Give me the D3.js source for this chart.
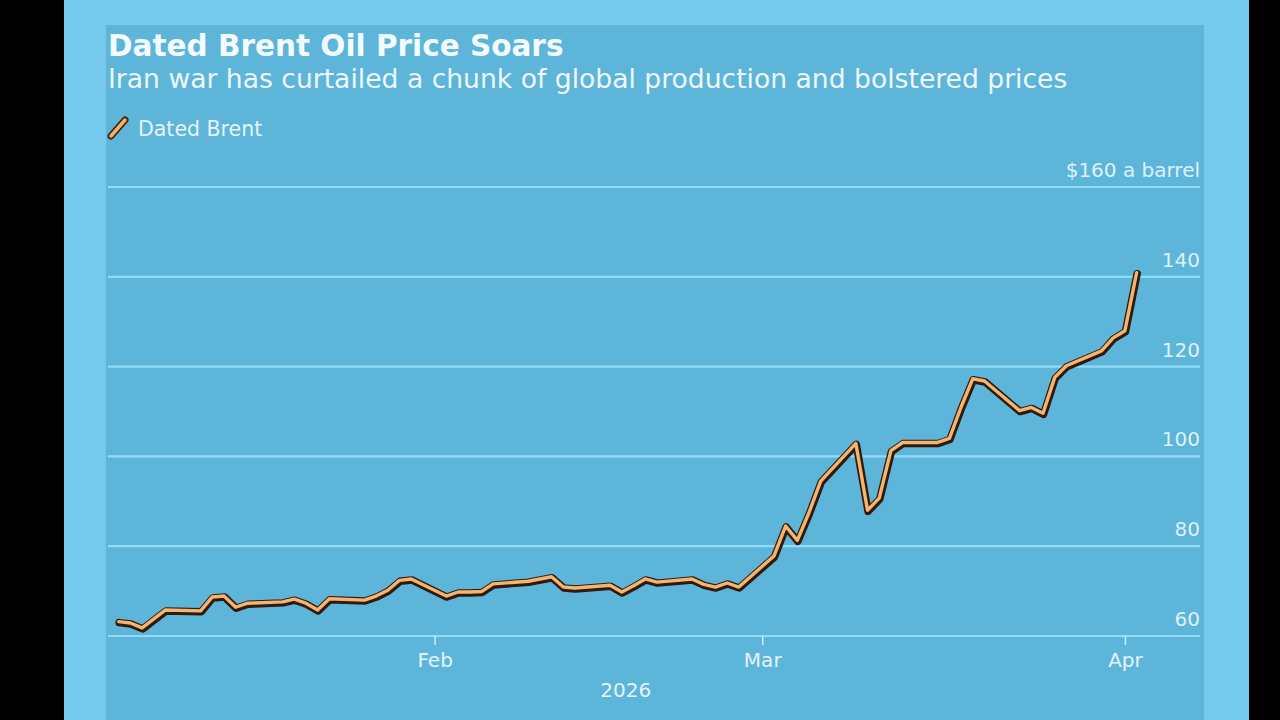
<!DOCTYPE html>
<html>
<head>
<meta charset="utf-8">
<script src="https://cdn.jsdelivr.net/npm/d3@7/dist/d3.min.js"></script>
<style>
  html, body { margin: 0; padding: 0; background: #000; }
  svg { display: block; }
</style>
</head>
<body>
<svg id="chart" width="1280" height="720"></svg>
<script>
// ---- Data ----
const title = "Dated Brent Oil Price Soars";
const subtitle = "Iran war has curtailed a chunk of global production and bolstered prices";
const seriesName = "Dated Brent";

const dates = [
  "2026-01-05","2026-01-06","2026-01-07","2026-01-08","2026-01-09",
  "2026-01-12","2026-01-13","2026-01-14","2026-01-15","2026-01-16",
  "2026-01-19","2026-01-20","2026-01-21","2026-01-22","2026-01-23",
  "2026-01-26","2026-01-27","2026-01-28","2026-01-29","2026-01-30",
  "2026-02-02","2026-02-03","2026-02-04","2026-02-05","2026-02-06",
  "2026-02-09","2026-02-10","2026-02-11","2026-02-12","2026-02-13",
  "2026-02-16","2026-02-17","2026-02-18","2026-02-19","2026-02-20",
  "2026-02-23","2026-02-24","2026-02-25","2026-02-26","2026-02-27",
  "2026-03-02","2026-03-03","2026-03-04","2026-03-05","2026-03-06",
  "2026-03-09","2026-03-10","2026-03-11","2026-03-12","2026-03-13",
  "2026-03-16","2026-03-17","2026-03-18","2026-03-19","2026-03-20",
  "2026-03-23","2026-03-24","2026-03-25","2026-03-26","2026-03-27",
  "2026-03-30","2026-03-31","2026-04-01","2026-04-02"
];
const prices = [
  63.2, 62.9, 61.8, 63.8, 65.8,
  65.6, 68.7, 68.9, 66.4, 67.3,
  67.6, 68.2, 67.3, 65.8, 68.3,
  68.0, 68.9, 70.2, 72.4, 72.7,
  68.9, 69.8, 69.8, 69.9, 71.6,
  72.2, 72.7, 73.2, 70.9, 70.7,
  71.3, 69.8, 71.2, 72.7, 72.0,
  72.7, 71.5, 70.9, 71.8, 70.9,
  77.8, 84.5, 81.3, 87.5, 94.5,
  102.9, 88.0, 90.7, 101.3, 103.1,
  103.1, 104.0, 111.0, 117.3, 116.8,
  110.2, 110.9, 109.6, 117.6, 120.2,
  123.5, 126.4, 128.0, 140.9
];
const yTicks = [60, 80, 100, 120, 140, 160];
const yTickLabels = ["60", "80", "100", "120", "140", "$160 a barrel"];
const xTickDates = ["2026-02-01", "2026-03-01", "2026-04-01"];
const xTickLabels = ["Feb", "Mar", "Apr"];
const yearLabel = "2026";

// ---- Layout ----
const W = 1280, H = 720;
const plotLeft = 108, plotRight = 1200;
const yTop = 187, yBottom = 636;

const svg = d3.select("#chart");

svg.append("rect").attr("x", 0).attr("y", 0).attr("width", W).attr("height", H).attr("fill", "#000");
svg.append("rect").attr("x", 64).attr("y", 0).attr("width", 1185).attr("height", H).attr("fill", "#74c9ed");
svg.append("rect").attr("x", 106).attr("y", 25).attr("width", 1098).attr("height", H - 25).attr("fill", "#5db5da");

const parse = d3.utcParse("%Y-%m-%d");
const data = dates.map((d, i) => ({ date: parse(d), value: prices[i] }));

const x = d3.scaleUtc()
  .domain([new Date(Date.UTC(2026, 0, 4, 2)), new Date(Date.UTC(2026, 3, 7, 10))])
  .range([plotLeft, plotRight]);
const y = d3.scaleLinear().domain([60, 160]).range([yBottom, yTop]);

const font = "'DejaVu Sans', sans-serif";

// Title & subtitle
svg.append("text").attr("x", 108).attr("y", 56)
  .attr("font-family", font).attr("font-weight", "bold")
  .attr("font-size", 29.5).attr("fill", "#f4fbff").text(title);
svg.append("text").attr("x", 108).attr("y", 88)
  .attr("font-family", font)
  .attr("font-size", 26.6).attr("fill", "#eef8fd").text(subtitle);

// Legend
const lg = svg.append("g");
lg.append("line").attr("x1", 111).attr("y1", 136).attr("x2", 125).attr("y2", 120)
  .attr("stroke", "#3b2414").attr("stroke-width", 7).attr("stroke-linecap", "round");
lg.append("line").attr("x1", 111).attr("y1", 136).attr("x2", 125).attr("y2", 120)
  .attr("stroke", "#f6b066").attr("stroke-width", 3.5).attr("stroke-linecap", "round");
lg.append("text").attr("x", 138).attr("y", 136)
  .attr("font-family", font).attr("font-size", 20.5).attr("fill", "#e6f4fb").text(seriesName);

// Gridlines
svg.append("g").selectAll("line").data(yTicks).join("line")
  .attr("x1", plotLeft).attr("x2", plotRight)
  .attr("y1", d => y(d)).attr("y2", d => y(d))
  .attr("stroke", "#92dcf8").attr("stroke-width", 2.2);

// Y labels
svg.append("g").selectAll("text").data(yTicks).join("text")
  .attr("x", plotRight).attr("y", d => y(d) - 10)
  .attr("text-anchor", "end")
  .attr("font-family", font).attr("font-size", 20).attr("fill", "#dff1fa")
  .text((d, i) => yTickLabels[i]);

// X axis
const xAxis = d3.axisBottom(x)
  .tickValues(xTickDates.map(parse))
  .tickFormat((d, i) => xTickLabels[i])
  .tickSize(9).tickPadding(8);
const gx = svg.append("g").attr("transform", `translate(0,${yBottom})`).call(xAxis);
gx.select(".domain").remove();
gx.selectAll(".tick line").attr("stroke", "#cdeefc").attr("stroke-width", 1.5);
gx.selectAll(".tick text").attr("font-family", font).attr("font-size", 20).attr("fill", "#e6f4fb");

svg.append("text").attr("x", x(parse("2026-02-17")) + 4).attr("y", 697)
  .attr("text-anchor", "middle")
  .attr("font-family", font).attr("font-size", 20).attr("fill", "#e6f4fb").text(yearLabel);

// Line
const line = d3.line().x(d => x(d.date)).y(d => y(d.value));
svg.append("path").datum(data).attr("d", line)
  .attr("fill", "none").attr("stroke", "#2e1a0e").attr("stroke-width", 7.5)
  .attr("stroke-linejoin", "round").attr("stroke-linecap", "round")
  .attr("transform", "translate(0.5,1)");
svg.append("path").datum(data).attr("d", line)
  .attr("fill", "none").attr("stroke", "#f7b46c").attr("stroke-width", 3.4)
  .attr("stroke-linejoin", "round").attr("stroke-linecap", "round");
</script>
</body>
</html>
